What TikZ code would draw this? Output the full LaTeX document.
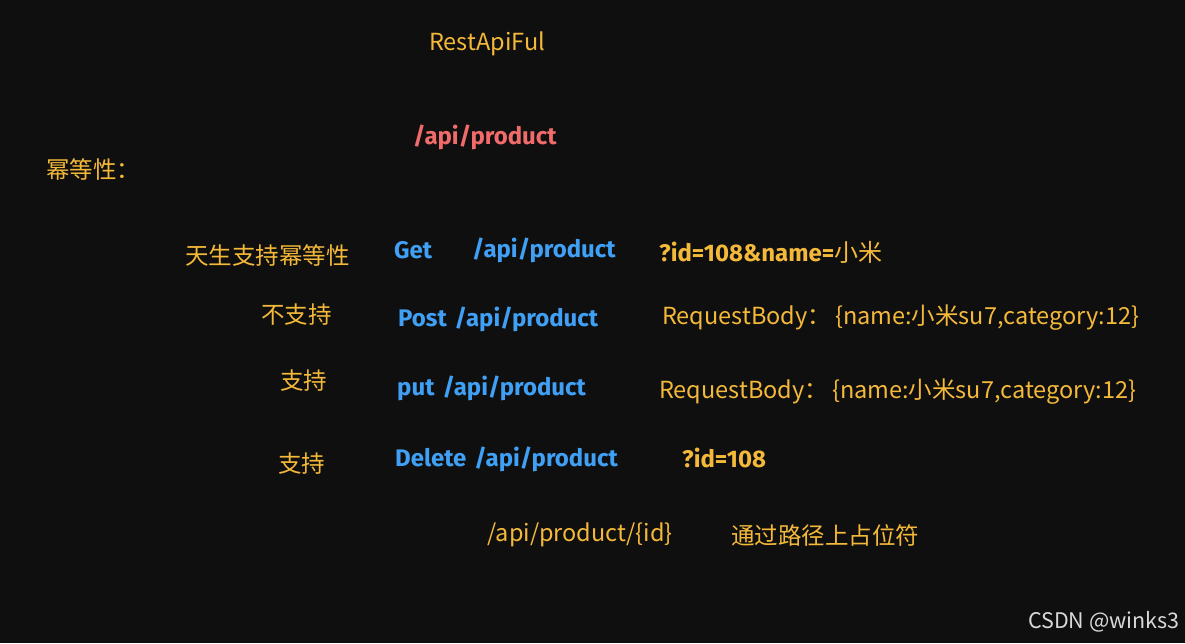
\documentclass[tikz,border=0pt]{standalone}
\usepackage{fontspec}
\setmainfont{Noto Sans CJK SC}
\newfontfamily\hand{Fira Sans}
\definecolor{bg}{HTML}{0F0F0F}
\definecolor{org}{HTML}{F5B93A}
\definecolor{rd}{HTML}{F26B6B}
\definecolor{bl}{HTML}{3FA0F5}
\definecolor{gr}{HTML}{D8D8D8}
\begin{document}
\begin{tikzpicture}[x=1pt,y=-1pt,
  o/.style={text=org,font=\fontsize{23.5}{27}\selectfont,inner sep=0pt,anchor=west},
  h/.style={font=\hand\bfseries\fontsize{24}{27}\selectfont,inner sep=0pt,anchor=west},
  b/.style={h,text=bl}]
\fill[bg] (0,0) rectangle (1185,643);
\useasboundingbox (0,0) rectangle (1185,643);
\node[o] (t) at (429,44) {RestApiFul};
\node[h,text=rd] (r) at (413,137) {/api/product};
\node[o] (m) at (46,170) {幂等性：};
\node[o] (a1) at (185,256) {天生支持幂等性};
\node[b] (g1) at (394,250) {Get};
\node[b] (g2) at (472,250) {/api/product};
\node[h,text=org] (g3) at (659,252) {?id=108\&name=\fontspec{Noto Sans CJK SC}\mdseries 小米};
\node[o] (a2) at (261,315) {不支持};
\node[b] (p1) at (398,319) {Post\hspace{8pt}/api/product};
\node[o] (p2) at (662,318) {RequestBody：\hspace{4pt}\{name:小米su7,category:12\}};
\node[o] (a3) at (280,381) {支持};
\node[b] (u1) at (397,388) {put\hspace{8pt}/api/product};
\node[o] (u2) at (659,392) {RequestBody：\hspace{4pt}\{name:小米su7,category:12\}};
\node[o] (a4) at (278,464) {支持};
\node[b] (d1) at (395,459) {Delete\hspace{8pt}/api/product};
\node[h,text=org] (d2) at (682,458) {?id=108};
\node[o] (e1) at (487,535) {/api/product/\{id\}};
\node[o] (e2) at (731,535) {通过路径上占位符};
\node[text=gr,font=\fontsize{21.5}{24}\selectfont,inner sep=0pt,anchor=west] (w) at (1028,622) {CSDN @winks3};
\end{tikzpicture}
\end{document}
